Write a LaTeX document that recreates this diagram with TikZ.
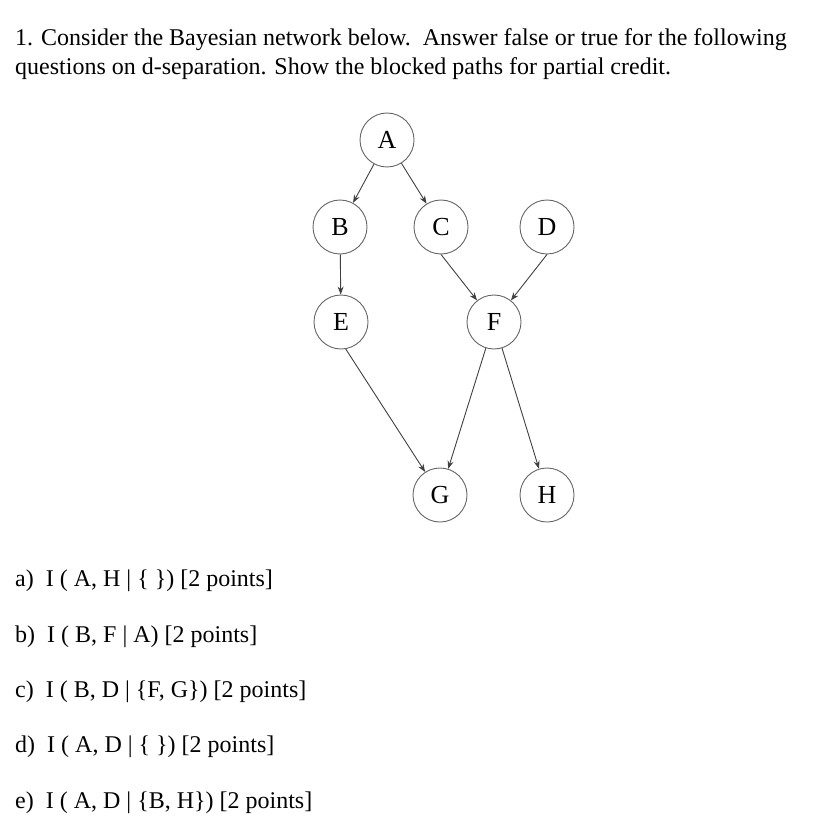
\documentclass[tikz,border=0pt]{standalone}
\usepackage{fontspec}
\setmainfont{Liberation Serif}
\usetikzlibrary{arrows.meta}
\begin{document}
\begin{tikzpicture}[x=1pt,y=-1pt,
  bn/.style={circle,draw=black!60,fill=white,line width=0.9pt,minimum size=54pt,inner sep=0pt,font=\fontsize{26}{26}\selectfont},
  arr/.style={draw=black!75,line width=0.9pt,-{Stealth[length=8pt,width=6pt]}},
  txt/.style={anchor=base west,inner sep=0pt,font=\fontsize{24}{24}\selectfont}]
\useasboundingbox (0,0) rectangle (815,834);
\node[txt] (l1) at (15,46) {1. Consider the Bayesian network below.\ \ Answer false or true for the following};
\node[txt] (l2) at (15,75) {questions on d-separation. Show the blocked paths for partial credit.};
\node[bn] (A) at (387,140) {A};
\node[bn] (B) at (340,227) {B};
\node[bn] (C) at (441,227) {C};
\node[bn] (D) at (547,227) {D};
\node[bn] (E) at (341,322) {E};
\node[bn] (F) at (494,322) {F};
\node[bn] (G) at (440,495) {G};
\node[bn] (H) at (547,495) {H};
\draw[arr] (A) -- (B);
\draw[arr] (A) -- (C);
\draw[arr] (B) -- (E);
\draw[arr] (C.south) -- (F);
\draw[arr] (D.south) -- (F);
\draw[arr] (E.-80) -- (G);
\draw[arr] (F) -- (G);
\draw[arr] (F) -- (H);
\node[txt] (qa) at (15,586) {a)\ \ I ( A, H | \{ \}) [2 points]};
\node[txt] (qb) at (15,642) {b)\ \ I ( B, F | A) [2 points]};
\node[txt] (qc) at (15,697) {c)\ \ I ( B, D | \{F, G\}) [2 points]};
\node[txt] (qd) at (15,752) {d)\ \ I ( A, D | \{ \}) [2 points]};
\node[txt] (qe) at (15,808) {e)\ \ I ( A, D | \{B, H\}) [2 points]};
\end{tikzpicture}
\end{document}
